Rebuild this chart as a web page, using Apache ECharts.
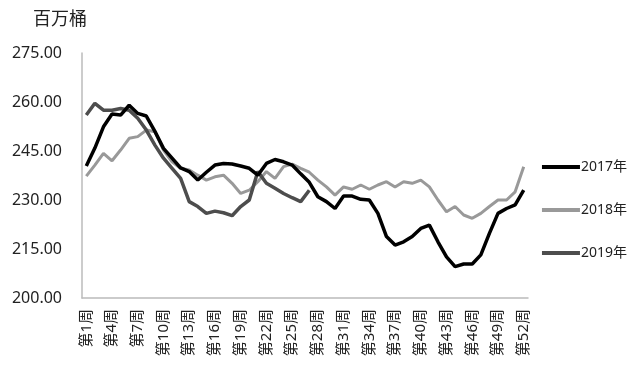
<!DOCTYPE html>
<html>
<head>
<meta charset="utf-8">
<script src="https://cdn.jsdelivr.net/npm/echarts@6/dist/echarts.min.js"></script>
<style>
  html, body { margin: 0; padding: 0; background: #fff; }
  #char { width: 640px; height: 373px; }
</style>
</head>
<body>
<div id="char"></div>
<script>
// 周次
var weeks = [];
for (var i = 1; i <= 52; i++) weeks.push('第' + i + '周');

var s2017 = [240.4, 245.9, 252.4, 256.3, 256.0, 259.0, 256.5, 255.7, 251.0, 245.8,
  242.8, 239.8, 238.7, 236.1, 238.5, 240.7, 241.2, 241.0, 240.4, 239.7,
  237.6, 241.2, 242.4, 241.7, 240.7, 238.0, 235.4, 231.0, 229.5, 227.4,
  231.2, 231.2, 230.2, 230.0, 225.9, 218.8, 216.2, 217.2, 218.8, 221.3,
  222.3, 217.2, 212.6, 209.6, 210.4, 210.4, 213.2, 219.8, 225.9, 227.4,
  228.5, 233.0];
var s2018 = [237.3, 240.7, 244.3, 242.0, 245.3, 248.9, 249.4, 251.4, 250.9, 245.3,
  241.7, 239.7, 239.2, 237.6, 236.1, 237.1, 237.6, 235.1, 232.0, 233.0,
  235.6, 238.7, 236.6, 240.2, 241.0, 239.7, 238.5, 236.1, 234.0, 231.5,
  234.0, 233.3, 234.6, 233.3, 234.6, 235.6, 234.0, 235.6, 235.1, 236.1,
  234.0, 230.0, 226.4, 228.0, 225.4, 224.4, 225.9, 228.0, 230.0, 230.0,
  232.5, 240.2];
var s2019 = [256.0, 259.6, 257.5, 257.5, 258.0, 257.5, 255.0, 251.4, 246.8, 242.8,
  239.7, 236.6, 229.5, 228.0, 225.9, 226.6, 226.1, 225.2, 228.0, 230.0,
  238.7, 235.1, 233.6, 232.0, 230.7, 229.5, 233.0];
var yTicks = [200, 215, 230, 245, 260, 275];

var font = '"Noto Sans", "Noto Sans CJK SC", sans-serif';
var myChart = echarts.init(document.getElementById('char'));
var option = {
  animation: false,
  title: {
    text: '百万桶',
    left: 28,
    top: 6,
    textStyle: { fontFamily: font, fontSize: 18, fontWeight: 'normal', color: '#222' }
  },
  legend: {
    orient: 'vertical',
    right: 8,
    top: 155,
    itemGap: 29,
    itemWidth: 38,
    itemHeight: 4,
    icon: 'rect',
    textStyle: { fontFamily: font, fontSize: 14, color: '#222', padding: [0, 0, 0, -4] },
    data: ['2017年', '2018年', '2019年']
  },
  grid: {
    left: 82,
    right: 112,
    top: 53,
    bottom: 75,
    containLabel: false
  },
  xAxis: {
    type: 'category',
    boundaryGap: true,
    data: weeks,
    axisLine: { lineStyle: { color: '#bbb', width: 1.5 } },
    axisTick: { show: false },
    axisLabel: {
      interval: 2,
      rotate: 90,
      fontFamily: font,
      fontSize: 15,
      color: '#222',
      margin: 11
    }
  },
  yAxis: {
    type: 'value',
    min: yTicks[0],
    max: yTicks[yTicks.length - 1],
    interval: 15,
    axisLine: { show: true, lineStyle: { color: '#bbb', width: 1.5 } },
    axisTick: { show: false },
    splitLine: { show: false },
    axisLabel: {
      fontFamily: font,
      fontSize: 16,
      color: '#222',
      margin: 20,
      formatter: function (v) { return v.toFixed(2); }
    }
  },
  series: [
    {
      name: '2017年', type: 'line', data: s2017, symbol: 'none',
      itemStyle: { color: '#000' },
      lineStyle: { color: '#000', width: 3.5 }, z: 3
    },
    {
      name: '2018年', type: 'line', data: s2018, symbol: 'none',
      itemStyle: { color: '#999' },
      lineStyle: { color: '#999', width: 3 }, z: 1
    },
    {
      name: '2019年', type: 'line', data: s2019, symbol: 'none',
      itemStyle: { color: '#4d4d4d' },
      lineStyle: { color: '#4d4d4d', width: 3.5 }, z: 2
    }
  ]
};
myChart.setOption(option);
</script>
</body>
</html>
